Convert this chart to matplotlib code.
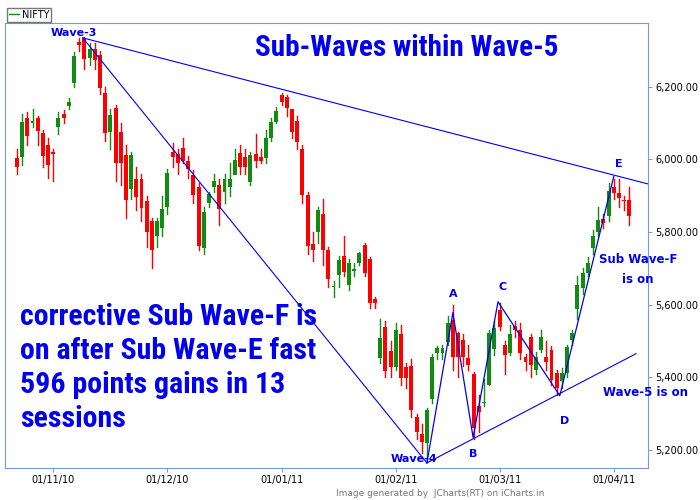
import matplotlib
matplotlib.use("Agg")
import matplotlib.pyplot as plt
from matplotlib.patches import Rectangle
from matplotlib.lines import Line2D

opens = [6004,6008,6113,6100,6113,6073,6039,6021,6089,6124,6147,6210,6324,6334,6280,6304,6288,6182,6077,6143,
         6077,6011,5919,5947,5947,5885,5830,5788,5811,5870,6021,6015,6032,5997,5956,5923,5757,5880,5924,5929,
         5911,5924,5958,6018,6006,5937,6014,6006,6004,6060,6104,6178,6172,6138,6107,6029,5901,5766,5799,5851,
         5751,5648,5682,5734,5654,5694,5716,5765,5725,5615,5452,5538,5471,5429,5520,5429,5431,5290,5244,5218,
         5339,5466,5466,5498,5558,5521,5503,5452,5409,5321,5328,5379,5477,5586,5489,5466,5542,5531,5457,5510,
         5420,5475,5457,5475,5411,5391,5411,5503,5587,5645,5687,5755,5801,5835,5843,5925,5907,5889,5889]
closes = [5980,6104,6065,6106,6078,6009,5986,6014,6115,6115,6158,6285,6315,6277,6304,6274,6196,6072,6122,5989,
          5989,5887,6011,5897,5865,5799,5751,5830,5864,5962,6008,5990,5997,5975,5901,5763,5856,5904,5942,5864,
          5946,5946,5999,5979,5979,6011,5996,5997,6060,6104,6134,6157,6143,6076,6048,5901,5762,5751,5860,5751,
          5670,5652,5723,5691,5714,5696,5742,5687,5604,5604,5508,5416,5429,5529,5397,5397,5310,5250,5223,5310,
          5457,5480,5480,5549,5457,5457,5457,5434,5260,5303,5333,5523,5535,5538,5462,5519,5529,5466,5443,5434,
          5457,5512,5443,5393,5370,5411,5483,5523,5654,5687,5714,5790,5834,5826,5912,5909,5893,5886,5843]
highs = [6030,6125,6130,6140,6120,6080,6060,6030,6130,6135,6170,6295,6336,6338,6320,6320,6300,6200,6140,6150,
         6100,6040,6020,5980,5960,5900,5840,5840,5900,5975,6045,6030,6060,6010,5970,5935,5870,5910,5960,5945,
         5960,5990,6030,6040,6030,6020,6070,6030,6080,6115,6145,6182,6178,6140,6120,6040,5910,5800,5870,5890,
         5760,5665,5735,5790,5725,5715,5745,5770,5730,5620,5560,5555,5500,5550,5545,5440,5450,5300,5270,5315,
         5465,5485,5490,5570,5600,5525,5520,5490,5415,5350,5395,5530,5555,5605,5500,5545,5555,5550,5465,5520,
         5470,5530,5500,5485,5420,5425,5490,5530,5680,5700,5730,5805,5870,5850,5935,5945,5945,5900,5925]
lows = [5960,5985,6040,6090,6040,5980,5950,5940,6070,6100,6140,6200,6300,6250,6260,6250,6180,6050,6030,5940,
        5930,5840,5890,5860,5830,5760,5700,5760,5790,5850,5980,5960,5990,5950,5880,5750,5740,5870,5910,5820,
        5880,5900,5970,5960,5960,5930,5980,5990,5990,6050,6100,6150,6120,6060,6030,5880,5740,5720,5770,5710,
        5650,5620,5650,5680,5640,5680,5710,5680,5590,5590,5440,5400,5400,5420,5380,5370,5290,5230,5190,5170,
        5330,5450,5450,5490,5420,5400,5430,5420,5230,5250,5320,5380,5460,5530,5410,5460,5510,5450,5420,5400,
        5410,5470,5420,5380,5350,5370,5400,5490,5560,5630,5680,5740,5790,5810,5830,5890,5870,5860,5820]

month_ticks_idx = [7, 29, 51, 73, 93, 115]
month_labels = ["01/11/10", "01/12/10", "01/01/11", "01/02/11", "01/03/11", "01/04/11"]
price_ticks = [5200, 5400, 5600, 5800, 6000, 6200]

wave_x = [12.7, 79, 84, 87.9, 92.7, 104.6, 115]
wave_y = [6335, 5164, 5578, 5234, 5608, 5349, 5953]
upper_x = [12.7, 121.5]; upper_y = [6335, 5933]
lower_x = [79, 119.3]; lower_y = [5164, 5465]

fig = plt.figure(figsize=(7, 5), dpi=100)
ax = fig.add_axes([5/700, 1-468/500, 643/700, 445/500])
RED = "#ff0000"; GREEN = "#108c10"
for i, (o, h, l, c) in enumerate(zip(opens, highs, lows, closes)):
    col = GREEN if c >= o else RED
    ax.plot([i, i], [l, h], color=col, lw=1, zorder=2)
    b = max(abs(c - o), 3)
    ax.add_patch(Rectangle((i - 0.38, min(o, c)), 0.76, b, color=col, zorder=3, lw=0))

BLUE = "#0000ee"
ax.plot(wave_x[:2], wave_y[:2], color=BLUE, lw=0.8, zorder=4)
ax.plot(wave_x[1:], wave_y[1:], color=BLUE, lw=0.9, zorder=4)
ax.plot(upper_x, upper_y, color=BLUE, lw=0.8, zorder=4)
ax.plot(lower_x, lower_y, color=BLUE, lw=0.8, zorder=4)

ax.set_xlim(-2.3, 121.6)
ax.set_ylim(5150, 6376)
ax.yaxis.tick_right()
ax.set_yticks(price_ticks)
ax.set_yticklabels([f"{v:,.2f}" for v in price_ticks], fontsize=7)
ax.set_xticks(month_ticks_idx)
ax.set_xticklabels(month_labels, fontsize=7)
ax.tick_params(length=3, color="#7799dd", pad=2)
for s in ax.spines.values():
    s.set_color("#7799dd")

lab = dict(color=BLUE, fontsize=8, fontweight="bold", ha="center")
ax.text(11, 6340, "Wave-3", **lab)
ax.text(76.5, 5160, "Wave-4", va="bottom", **lab)
ax.text(84, 5620, "A", **lab)
ax.text(88, 5180, "B", **lab)
ax.text(93.5, 5640, "C", **lab)
ax.text(105.5, 5270, "D", **lab)
ax.text(116, 5980, "E", **lab)
ax.text(119.7, 5696, "Sub Wave-F\nis on", color=BLUE, fontsize=8.5, fontweight="bold", ha="center",
        va="center", linespacing=1.7, clip_on=False)
ax.text(121.2, 5358, "Wave-5 is on", color=BLUE, fontsize=8.5, fontweight="bold", ha="center",
        va="center", clip_on=False)

fig.text(407/700, 1-48/500, "Sub-Waves within Wave-5", color=BLUE, fontsize=21,
         fontweight="bold", family="Roboto Condensed", ha="center", va="center")
fig.text(20/700, 1-368/500, "corrective Sub Wave-F is\non after Sub Wave-E fast\n596 points gains in 13\nsessions",
         color=BLUE, fontsize=21.5, fontweight="bold", family="Roboto Condensed", ha="left", va="center",
         linespacing=1.27)
fig.text(440/700, 1-493/500, "Image generated by  JCharts(RT) on iCharts.in", color="#777777", fontsize=6.5, ha="center", va="center")

leg = ax.legend([Line2D([0], [0], color=GREEN, lw=1)], ["NIFTY"], loc="upper left",
                bbox_to_anchor=(-0.004, 1.045), fontsize=7, handlelength=1, frameon=True,
                fancybox=False, borderpad=0.2, handletextpad=0.3)
leg.get_frame().set_edgecolor("#555555")
fig.savefig("out.png", dpi=100)
